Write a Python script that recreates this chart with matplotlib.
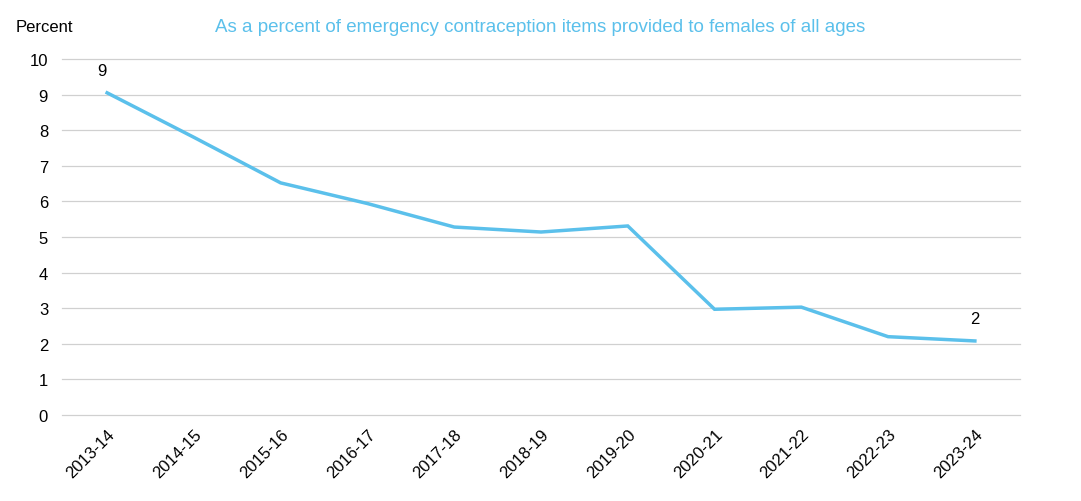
import matplotlib.pyplot as plt

plt.rcParams['font.family'] = ['Liberation Sans', 'DejaVu Sans']

years = ['2013-14', '2014-15', '2015-16', '2016-17', '2017-18', '2018-19',
         '2019-20', '2020-21', '2021-22', '2022-23', '2023-24']
percent = [9.05, 7.8, 6.52, 5.94, 5.28, 5.14, 5.31, 2.97, 3.03, 2.2, 2.08]

line_col = '#5bc0eb'

fig = plt.figure(figsize=(10.81, 5.02), dpi=100)
ax = fig.add_axes([62 / 1081, 1 - 416 / 502, (1020 - 62) / 1081, (416 - 60) / 502])

x = list(range(len(years)))
ax.plot(x, percent, color=line_col, lw=2.5, solid_joinstyle='miter')

# label first and last points
ax.annotate('9', (x[0], percent[0]), xytext=(-4, 11), textcoords='offset points',
            ha='center', va='bottom', fontsize=12)
ax.annotate('2', (x[-1], percent[-1]), xytext=(0, 11), textcoords='offset points',
            ha='center', va='bottom', fontsize=12)

ax.set_xlim(-0.52, len(years) - 0.48)
ax.set_ylim(0, 10)
ax.set_yticks(range(0, 11))
ax.set_xticks(x)
ax.set_xticklabels(years, rotation=45, ha='right', rotation_mode='anchor', fontsize=12)
ax.tick_params(axis='both', length=0, labelsize=12)
ax.tick_params(axis='y', pad=10)
ax.tick_params(axis='x', pad=8)
ax.grid(axis='y', color='#d0d0d0', lw=0.9)
for gl in ax.get_ygridlines():
    gl.set_clip_on(False)
ax.set_axisbelow(True)
for s in ax.spines.values():
    s.set_visible(False)

fig.text(16 / 1081, 1 - 28 / 502, 'Percent', fontsize=12, va='center', ha='left')
fig.text(540 / 1081, 1 - 27 / 502,
         'As a percent of emergency contraception items provided to females of all ages',
         fontsize=13.5, color=line_col, ha='center', va='center')

plt.savefig('out.png', dpi=100)
